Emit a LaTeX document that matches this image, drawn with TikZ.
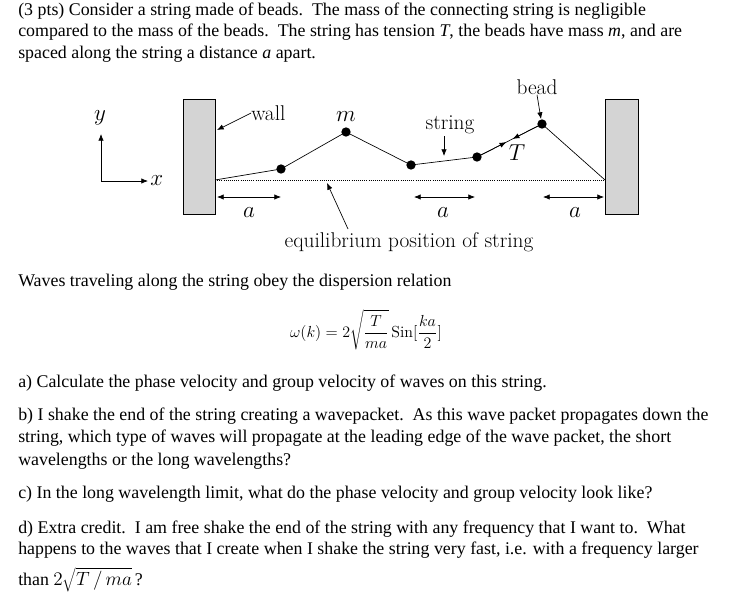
\documentclass[tikz,border=0pt]{standalone}
\usepackage{fontspec}
\newfontfamily\tnr{Liberation Serif}
\usetikzlibrary{arrows.meta,calc}
\begin{document}
\begin{tikzpicture}[x=0.75pt,y=-0.75pt,
  txt/.style={anchor=west,inner sep=0,font=\tnr\fontsize{13.4}{15}\selectfont},
  lab/.style={inner sep=0,font=\fontsize{16}{18}\selectfont},
  wallbox/.style={draw,fill=black!17,line width=0.6pt},
  beadpt/.style={circle,fill=black,inner sep=0,minimum size=7pt},
  str/.style={line width=0.5pt},
  arr/.style={-{Latex[length=5pt,width=4pt]},line width=0.5pt}]
\useasboundingbox (0,0) rectangle (731,603);
% text
\node[txt] (t1) at (18,11) {(3 pts) Consider a string made of beads.\ \ The mass of the connecting string is negligible};
\node[txt] (t2) at (18,32) {compared to the mass of the beads.\ \ The string has tension \textit{T}, the beads have mass \textit{m}, and are};
\node[txt] (t3) at (18,54) {spaced along the string a distance \textit{a} apart.};
\node[txt] (t4) at (18,282) {Waves traveling along the string obey the dispersion relation};
\node[inner sep=0,font=\tnr\fontsize{12}{14}\selectfont] (eq) at (366,330) {$\displaystyle\omega(k)=2\sqrt{\frac{T}{ma}}\,\textrm{Sin}[\frac{ka}{2}]$};
\node[txt] (qa) at (18,383) {a) Calculate the phase velocity and group velocity of waves on this string.};
\node[txt] (qb1) at (18,416) {b) I shake the end of the string creating a wavepacket.\ \ As this wave packet propagates down the};
\node[txt] (qb2) at (18,438) {string, which type of waves will propagate at the leading edge of the wave packet, the short};
\node[txt] (qb3) at (18,461) {wavelengths or the long wavelengths?};
\node[txt] (qc) at (18,494) {c) In the long wavelength limit, what do the phase velocity and group velocity look like?};
\node[txt] (qd1) at (18,529) {d) Extra credit.\ \ I am free shake the end of the string with any frequency that I want to.\ \ What};
\node[txt] (qd2) at (18,550) {happens to the waves that I create when I shake the string very fast, i.e. with a frequency larger};
\node[txt] (qd3) at (18,580) {than $2\sqrt{T\,/\,ma}$\,?};
% walls
\draw[wallbox] (183,99) rectangle (215,214);
\draw[wallbox] (605,99) rectangle (638,214);
\coordinate (s0) at (215,180);
\coordinate (s6) at (605,180);
\draw[densely dotted,line width=0.6pt] (s0) -- (s6);
\node[beadpt] (b1) at (281,169) {};
\node[beadpt] (b2) at (346,132) {};
\node[beadpt] (b3) at (411,165) {};
\node[beadpt] (b4) at (477,157) {};
\node[beadpt] (b5) at (542,124) {};
\draw[str] (s0) -- (b1.center) -- (b2.center) -- (b3.center) -- (b4.center) -- (b5.center) -- (s6);
\draw[arr] (b4.center) -- ($(b4)!0.45!(b5)$);
\draw[arr] (b5.center) -- ($(b5)!0.45!(b4)$);
% axes
\coordinate (o) at (101,181);
\coordinate (oy) at (101,134);
\coordinate (ox) at (148,181);
\draw[arr] (o) -- (oy);
\draw[arr] (o) -- (ox);
\node[lab] (ylab) at (100,118) {$y$};
\node[lab,anchor=west] (xlab) at (150,181) {$x$};
% labels
\node[lab,anchor=west] (wall) at (251,113) {wall};
\coordinate (wt) at (217,130);
\draw[arr] (wall.west) -- (wt);
\node[lab] (m) at (346,117) {$m$};
\node[lab] (string) at (450,125) {string};
\coordinate (st) at (444,156);
\draw[arr] (444,136) -- (st);
\node[lab] (T) at (517,153) {$T$};
\node[lab] (bead) at (537,87) {bead};
\coordinate (bt) at (541,119);
\draw[arr] (bead.south) -- (bt);
% spacing arrows
\coordinate (a1l) at (217,197); \coordinate (a1r) at (281,197);
\coordinate (a2l) at (414,197); \coordinate (a2r) at (475,197);
\coordinate (a3l) at (543,197); \coordinate (a3r) at (604,197);
\draw[{Latex[length=5pt,width=4pt]}-{Latex[length=5pt,width=4pt]},line width=0.5pt] (a1l) -- (a1r);
\draw[{Latex[length=5pt,width=4pt]}-{Latex[length=5pt,width=4pt]},line width=0.5pt] (a2l) -- (a2r);
\draw[{Latex[length=5pt,width=4pt]}-{Latex[length=5pt,width=4pt]},line width=0.5pt] (a3l) -- (a3r);
\node[lab] (la1) at (249,213) {$a$};
\node[lab] (la2) at (443,213) {$a$};
\node[lab] (la3) at (575,213) {$a$};
\node[lab] (eqp) at (409,242) {equilibrium position of string};
\coordinate (et) at (327,183);
\draw[arr] (348,229) -- (et);
\end{tikzpicture}
\end{document}
